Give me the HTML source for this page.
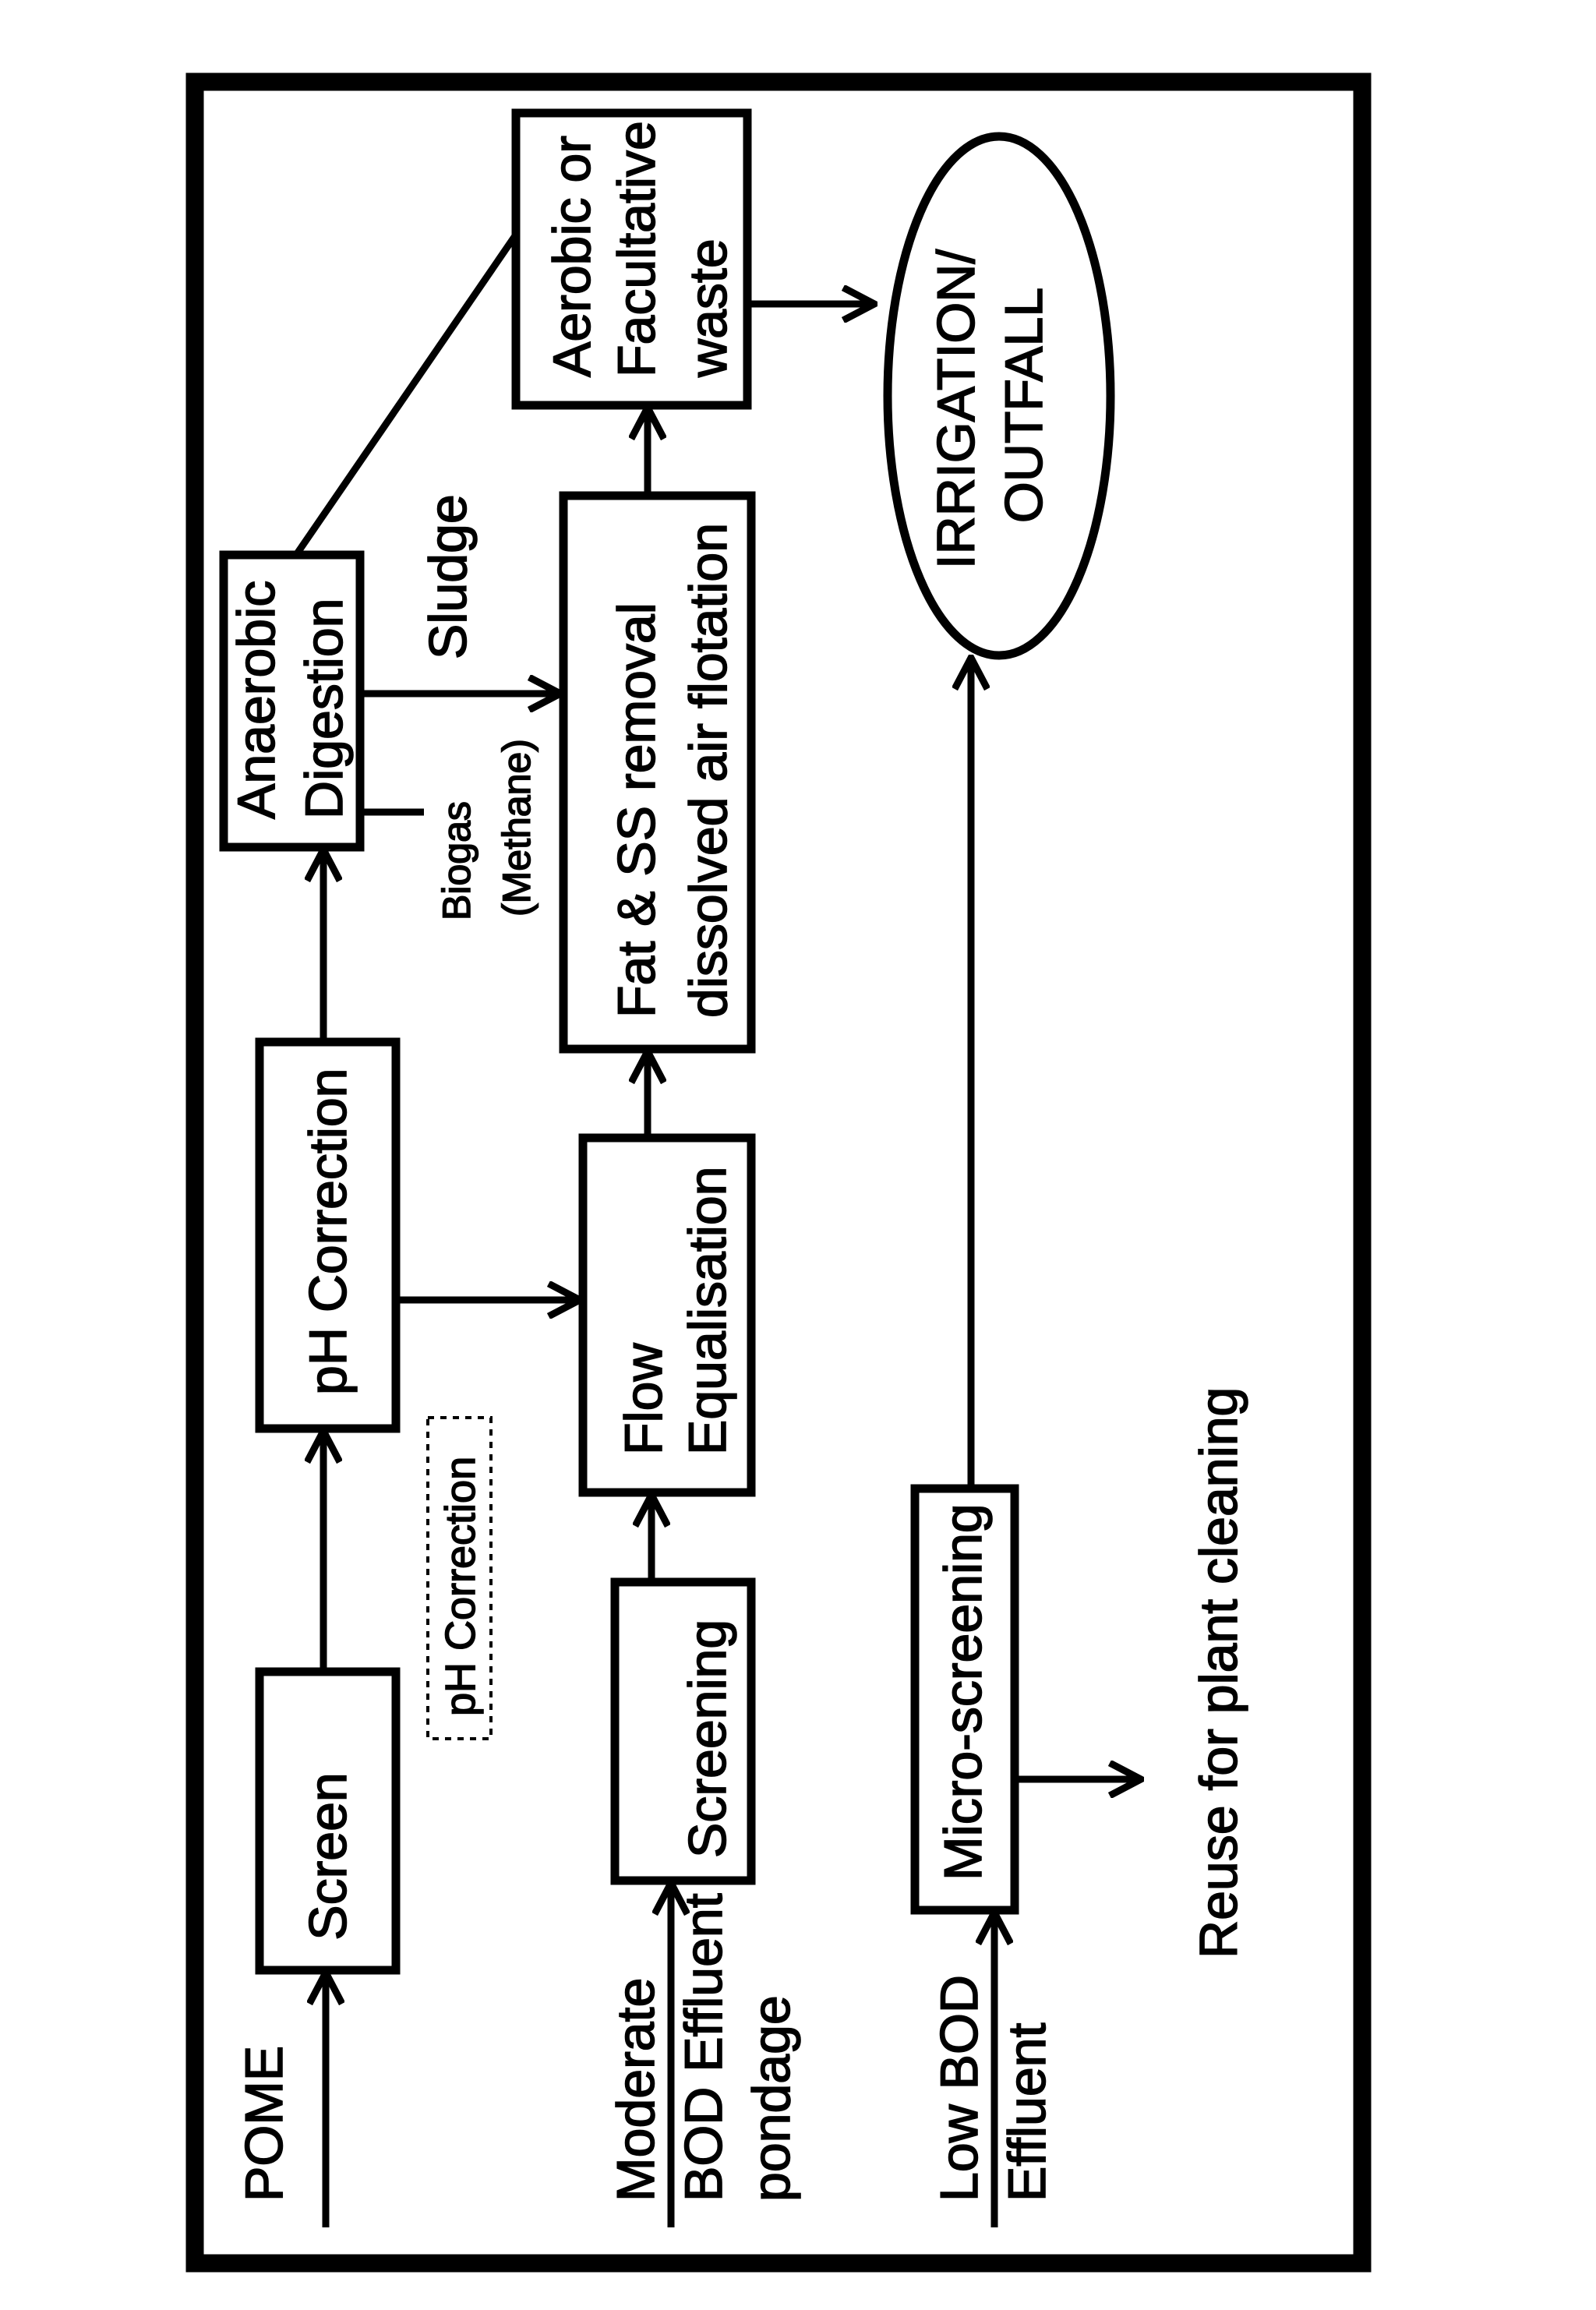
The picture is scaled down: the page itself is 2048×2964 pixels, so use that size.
<!DOCTYPE html>
<html><head><meta charset="utf-8"><style>
html,body{margin:0;padding:0;background:#fff;}
svg{display:block;}
text{font-family:"Liberation Sans",Arial,sans-serif;fill:#000;stroke:#000;stroke-width:1.6;}
</style></head><body>
<svg width="2048" height="2964" viewBox="0 0 2048 2964" xmlns="http://www.w3.org/2000/svg">
<defs>
<marker id="a" viewBox="0 0 48 48" refX="45" refY="24" markerWidth="48" markerHeight="48" markerUnits="userSpaceOnUse" orient="auto">
<path d="M4,3 L44,24 L4,45" fill="none" stroke="#000" stroke-width="9"/>
</marker>
</defs>
<rect x="250" y="105" width="1498" height="2799" fill="none" stroke="#000" stroke-width="23"/>
<g fill="none" stroke="#000" stroke-width="11">
<rect x="662" y="145" width="297" height="375"/>
<rect x="287" y="712" width="175" height="375"/>
<rect x="723" y="636" width="241" height="710"/>
<rect x="333" y="1337" width="175" height="496"/>
<rect x="748" y="1460" width="216" height="455"/>
<rect x="333" y="2145" width="175" height="383"/>
<rect x="789" y="2030" width="175" height="383"/>
<rect x="1174" y="1910" width="128" height="541"/>
<ellipse cx="1282" cy="508" rx="143" ry="333"/>
</g>
<rect x="549" y="1819" width="81" height="412" fill="none" stroke="#000" stroke-width="4" stroke-dasharray="8,8"/>
<g stroke="#000" stroke-width="9" fill="none">
<line x1="380" y1="712" x2="662" y2="301"/>
<line x1="959" y1="390" x2="1123" y2="390" marker-end="url(#a)"/>
<line x1="415" y1="1337" x2="415" y2="1089" marker-end="url(#a)"/>
<line x1="462" y1="1042" x2="544" y2="1042"/>
<line x1="462" y1="890" x2="720" y2="890" marker-end="url(#a)"/>
<line x1="831" y1="636" x2="831" y2="522" marker-end="url(#a)"/>
<line x1="508" y1="1668" x2="745" y2="1668" marker-end="url(#a)"/>
<line x1="831" y1="1460" x2="831" y2="1348" marker-end="url(#a)"/>
<line x1="415" y1="2145" x2="415" y2="1835" marker-end="url(#a)"/>
<line x1="418" y1="2858" x2="418" y2="2530" marker-end="url(#a)"/>
<line x1="836" y1="2030" x2="836" y2="1917" marker-end="url(#a)"/>
<line x1="861" y1="2858" x2="861" y2="2415" marker-end="url(#a)"/>
<line x1="1246" y1="1910" x2="1246" y2="843" marker-end="url(#a)"/>
<line x1="1302" y1="2283" x2="1465" y2="2283" marker-end="url(#a)"/>
<line x1="1276" y1="2858" x2="1276" y2="2453" marker-end="url(#a)"/>
</g>
<g font-size="68">
<text transform="translate(757,484) rotate(-90)">Aerobic or</text>
<text transform="translate(840,484) rotate(-90)">Facultative</text>
<text transform="translate(932,484) rotate(-90)">waste</text>
<text transform="translate(1250,525) rotate(-90)" text-anchor="middle">IRRIGATION/</text>
<text transform="translate(1337,520) rotate(-90)" text-anchor="middle">OUTFALL</text>
<text transform="translate(352,1051) rotate(-90)">Anaerobic</text>
<text transform="translate(439,1051) rotate(-90)">Digestion</text>
<text transform="translate(598,846) rotate(-90)">Sludge</text>
<text transform="translate(840,1306) rotate(-90)">Fat &amp; SS removal</text>
<text transform="translate(932,1306) rotate(-90)">dissolved air flotation</text>
<text transform="translate(444,1790) rotate(-90)">pH Correction</text>
<text transform="translate(849,1867) rotate(-90)">Flow</text>
<text transform="translate(931,1867) rotate(-90)">Equalisation</text>
<text transform="translate(444,2382) rotate(-90)" text-anchor="middle">Screen</text>
<text transform="translate(362,2825) rotate(-90)">POME</text>
<text transform="translate(931,2384) rotate(-90)">Screening</text>
<text transform="translate(839,2825) rotate(-90)">Moderate</text>
<text transform="translate(926,2825) rotate(-90)">BOD Effluent</text>
<text transform="translate(1013,2825) rotate(-90)">pondage</text>
<text transform="translate(1259,2413) rotate(-90)">Micro-screening</text>
<text transform="translate(1587,2513) rotate(-90)">Reuse for plant cleaning</text>
<text transform="translate(1254,2825) rotate(-90)">Low BOD</text>
<text transform="translate(1341,2825) rotate(-90)">Effluent</text>
</g>
<g font-size="50">
<text transform="translate(603,1181) rotate(-90)">Biogas</text>
<text transform="translate(680,1176) rotate(-90)">(Methane)</text>
</g>
<text font-size="54" transform="translate(609,2202) rotate(-90)">pH Correction</text>
</svg>
</body></html>
